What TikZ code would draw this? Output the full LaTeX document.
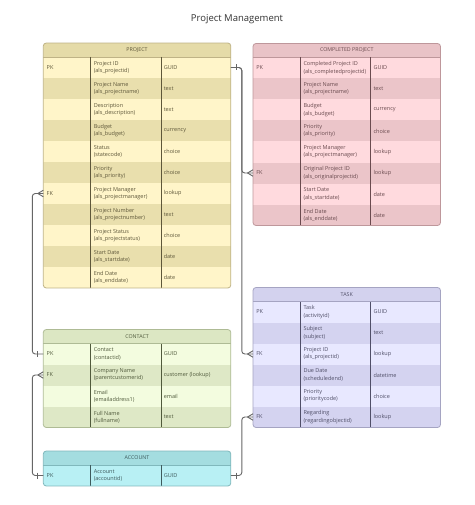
\documentclass[tikz,border=0pt]{standalone}
\usepackage{fontspec}
\setmainfont{Open Sans}
\usetikzlibrary{calc}
\definecolor{prjhead}{HTML}{E5DBA8}
\definecolor{prjlight}{HTML}{FFF5C9}
\definecolor{prjdark}{HTML}{E9DFAD}
\definecolor{prjborder}{HTML}{BFB386}
\definecolor{prjtext}{HTML}{5E573A}
\definecolor{cphead}{HTML}{E9C3C7}
\definecolor{cplight}{HTML}{FFDADE}
\definecolor{cpdark}{HTML}{EBC5C9}
\definecolor{cpborder}{HTML}{BE979B}
\definecolor{cptext}{HTML}{6A4B4F}
\definecolor{taskhead}{HTML}{D3D2EE}
\definecolor{tasklight}{HTML}{E8E8FF}
\definecolor{taskdark}{HTML}{D4D3F0}
\definecolor{taskborder}{HTML}{A5A4C2}
\definecolor{tasktext}{HTML}{504F68}
\definecolor{conhead}{HTML}{DCE7C3}
\definecolor{conlight}{HTML}{F3FCDF}
\definecolor{condark}{HTML}{DEE8C6}
\definecolor{conborder}{HTML}{AEBB95}
\definecolor{context}{HTML}{505A3C}
\definecolor{acchead}{HTML}{A4DDE0}
\definecolor{acclight}{HTML}{B8F0F4}
\definecolor{accdark}{HTML}{A8E4E8}
\definecolor{accborder}{HTML}{80B8BC}
\definecolor{acctext}{HTML}{3E5A5C}
\definecolor{connc}{HTML}{666666}
\tikzset{
  conn/.style={draw=connc, line width=0.9pt},
  rowbox/.style={inner sep=0pt, outer sep=0pt, minimum width=187.5pt, minimum height=21pt, draw=none},
  hdrbox/.style={inner sep=0pt, outer sep=0pt, minimum width=187.5pt, minimum height=14pt, draw=none, font=\fontsize{5.3}{6}\selectfont},
  cell/.style={inner sep=0pt, outer sep=0pt, align=left, anchor=west, font=\fontsize{5.5}{7.2}\selectfont},
}
% #1 name, #2 x, #3 y, #4 title, #5 colour prefix, #6 rows, #7 number of rows
\newcommand{\ertable}[7]{%
  \begin{scope}
    \path[clip, rounded corners=3pt] (#2,#3) rectangle ++(187.5,14+#7*21);
    \node[hdrbox, fill=#5head, text=#5text, anchor=north west] (#1-h) at (#2,#3) {#4};
    \foreach[count=\i] \ka/\kb/\kc/\kd in {#6} {
      \ifodd\i\relax \def\rowcol{#5light}\else \def\rowcol{#5dark}\fi
      \node[rowbox, fill=\rowcol, anchor=north west] (#1-\i) at (#2,#3+14+\i*21-21) {};
      \node[cell, text=#5text] (#1-\i-a) at ($(#1-\i.west)+(3.4,0)$) {\ka};
      \node[cell, text=#5text] (#1-\i-b) at ($(#1-\i.west)+(50.5,0)$) {\kb\\(\kc)};
      \node[cell, text=#5text] (#1-\i-c) at ($(#1-\i.west)+(120.5,0)$) {\kd};
    }
  \end{scope}
  \draw[#5border, line width=0.5pt] (#2,#3+14) -- ++(187.5,0);
  \draw[#5text, line width=0.6pt] (#2+47,#3+14) -- ++(0,#7*21);
  \draw[#5text, line width=0.6pt] (#2+117.5,#3+14) -- ++(0,#7*21);
  \draw[#5border, line width=0.8pt, rounded corners=3pt] (#2,#3) rectangle ++(187.5,14+#7*21);
}
\newcommand{\crowfoot}[1]{%
  \draw[conn] ($(#1)+(-5.5,0)$) -- ($(#1)+(0,-3.2)$);
  \draw[conn] ($(#1)+(-5.5,0)$) -- ($(#1)+(0,3.2)$);
}
\newcommand{\onebar}[2]{%
  \draw[conn] ($(#1)+(#2,-3)$) -- ($(#1)+(#2,3)$);
}
\begin{document}
\begin{tikzpicture}[x=1pt,y=-1pt]
\useasboundingbox[fill=white] (0,0) rectangle (474,505);
\node[font=\fontsize{9.5}{11}\selectfont, text=black!80] (title) at (237,19) {Project Management};

\ertable{prj}{43.3}{43}{PROJECT}{prj}{%
PK/Project ID/als\_projectid/GUID,
{}/Project Name/als\_projectname/text,
{}/Description/als\_description/text,
{}/Budget/als\_budget/currency,
{}/Status/statecode/choice,
{}/Priority/als\_priority/choice,
FK/Project Manager/als\_projectmanager/lookup,
{}/Project Number/als\_projectnumber/text,
{}/Project Status/als\_projectstatus/choice,
{}/Start Date/als\_startdate/date,
{}/End Date/als\_enddate/date}{11}

\ertable{cp}{253}{43.5}{COMPLETED PROJECT}{cp}{%
PK/Completed Project ID/als\_completedprojectid/GUID,
{}/Project Name/als\_projectname/text,
{}/Budget/als\_budget/currency,
{}/Priority/als\_priority/choice,
{}/Project Manager/als\_projectmanager/lookup,
FK/Original Project ID/als\_originalprojectid/lookup,
{}/Start Date/als\_startdate/date,
{}/End Date/als\_enddate/date}{8}

\ertable{task}{253}{287.5}{TASK}{task}{%
PK/Task/activityid/GUID,
{}/Subject/subject/text,
FK/Project ID/als\_projectid/lookup,
{}/Due Date/scheduledend/datetime,
{}/Priority/prioritycode/choice,
FK/Regarding/regardingobjectid/lookup}{6}

\ertable{con}{43.3}{329.5}{CONTACT}{con}{%
PK/Contact/contactid/GUID,
FK/Company Name/parentcustomerid/customer (lookup),
{}/Email/emailaddress1/email,
{}/Full Name/fullname/text}{4}

\ertable{acc}{43.3}{451}{ACCOUNT}{acc}{%
PK/Account/accountid/GUID}{1}

% connectors
\draw[conn, rounded corners=3pt] (prj-1.east) -- ++(11,0) |- (cp-6.west);
\draw[conn, rounded corners=3pt] (prj-1.east) -- ++(11,0) |- (task-3.west);
\onebar{prj-1.east}{5.5}
\crowfoot{cp-6.west}
\crowfoot{task-3.west}

\draw[conn, rounded corners=3pt] (prj-7.west) -- ++(-11,0) |- (con-1.west);
\crowfoot{prj-7.west}
\onebar{con-1.west}{-5.5}

\draw[conn, rounded corners=3pt] (con-2.west) -- ++(-11,0) |- (acc-1.west);
\crowfoot{con-2.west}
\onebar{acc-1.west}{-5.5}

\draw[conn, rounded corners=3pt] (acc-1.east) -- ++(11,0) |- (task-6.west);
\onebar{acc-1.east}{5.5}
\crowfoot{task-6.west}
\end{tikzpicture}
\end{document}
